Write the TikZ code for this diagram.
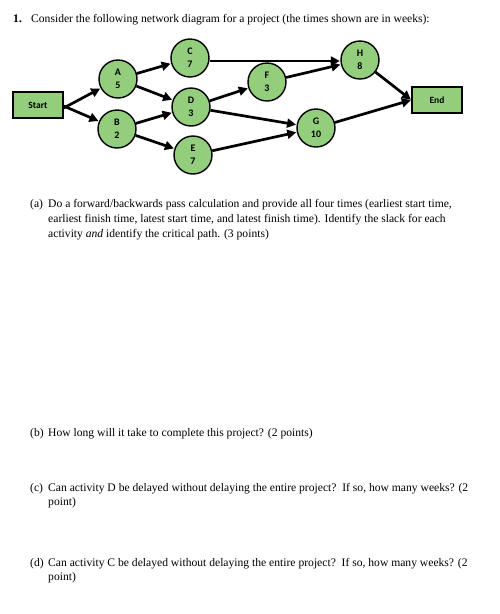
\documentclass[tikz,border=0pt]{standalone}
\usepackage{fontspec}
\setmainfont{Liberation Serif}
\newfontfamily\lblfont{Carlito}
\usetikzlibrary{arrows.meta}
\definecolor{nodegreen}{RGB}{146,206,124}
\begin{document}
\begin{tikzpicture}[x=1pt,y=-1pt,
  act/.style={circle,draw=black,line width=1.4pt,fill=nodegreen,minimum size=38pt,inner sep=0pt,
    font=\lblfont\bfseries\fontsize{10}{13}\selectfont,align=center},
  endbox/.style={rectangle,draw=black,line width=1.4pt,fill=nodegreen,minimum width=50pt,minimum height=26pt,
    inner sep=0pt,font=\lblfont\bfseries\fontsize{9.5}{11}\selectfont},
  conn/.style={line width=2.7pt,-{Triangle[length=9pt,width=9pt]},shorten >=0.5pt},
  txt/.style={anchor=base west,inner sep=0pt,font=\fontsize{11.6}{14}\selectfont}]
\useasboundingbox (0,0) rectangle (500,614);
\fill[white] (0,0) rectangle (500,614);
% nodes
\node[endbox] (start) at (38,105) {Start};
\node[endbox] (end) at (437,100) {End};
\node[act] (A) at (118,79) {A\\5};
\node[act] (B) at (117,129) {B\\2};
\node[act] (C) at (190,58) {C\\7};
\node[act] (D) at (191,107) {D\\3};
\node[act] (E) at (193,155) {E\\7};
\node[act] (F) at (267,82) {F\\3};
\node[act] (H) at (360,60) {H\\8};
\node[act] (G) at (316,128) {G\\10};
% connectors
\draw[conn] ([yshift=-3pt]start.east) -- (A);
\draw[conn] ([yshift=-1pt]start.east) -- (B);
\draw[conn] (A) -- (C);
\draw[conn] (A) -- (D);
\draw[conn] (B) -- (D);
\draw[conn] (B) -- (E);
\draw[conn] ([yshift=-3pt]C.east) -- ([yshift=-3pt]C.east -| H.west);
\draw[conn] (D) -- (F);
\draw[conn] (F) -- (H);
\draw[conn] (D) -- (G);
\draw[conn] (E) -- (G);
\draw[conn] (H) -- (end.west);
\draw[conn] (G) -- (end.west);
% texts
\node[txt] (t1) at (13,22) {\textbf{1.}};
\node[txt] (t1b) at (31,22) {Consider the following network diagram for a project (the times shown are in weeks):};
\node[txt] (a0) at (30,207) {(a)};
\node[txt] (a1) at (48,207) {Do a forward/backwards pass calculation and provide all four times (earliest start time,};
\node[txt] (a2) at (48,222) {earliest finish time, latest start time, and latest finish time). Identify the slack for each};
\node[txt] (a3) at (48,237) {activity \textit{and} identify the critical path. (3 points)};
\node[txt] (b0) at (30,436) {(b)};
\node[txt] (b1) at (48,436) {How long will it take to complete this project? (2 points)};
\node[txt] (c0) at (30,491) {(c)};
\node[txt] (c1) at (48,491) {Can activity D be delayed without delaying the entire project?\ \ If so, how many weeks? (2};
\node[txt] (c2) at (48,505) {point)};
\node[txt] (d0) at (30,566) {(d)};
\node[txt] (d1) at (48,566) {Can activity C be delayed without delaying the entire project?\ \ If so, how many weeks? (2};
\node[txt] (d2) at (48,580) {point)};
\end{tikzpicture}
\end{document}
